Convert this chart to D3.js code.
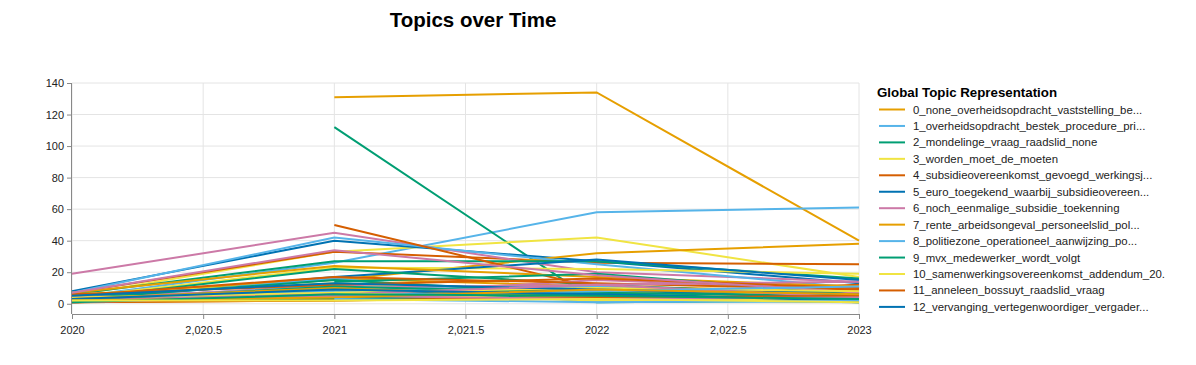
<!DOCTYPE html>
<html>
<head>
<meta charset="utf-8">
<script src="https://cdn.jsdelivr.net/npm/d3@7"></script>
<style>
  body { margin: 0; background: #fff; }
  svg { font-family: "Liberation Sans", Arial, sans-serif; }
</style>
</head>
<body>
<svg width="1196" height="365"></svg>
<script>
var width = 1196;
var height = 365;

var years = [2020, 2021, 2022, 2023];
var xTicks = [2020, 2020.5, 2021, 2021.5, 2022, 2022.5, 2023];
var xTickLabels = ['2020', '2,020.5', '2021', '2,021.5', '2022', '2,022.5', '2023'];
var yTicks = [0, 20, 40, 60, 80, 100, 120, 140];

var palette = ['#E69F00', '#56B4E9', '#009E73', '#F0E442', '#D55E00', '#0072B2', '#CC79A7'];

// legend names (only the first 13 fit in the legend)
var topicNames = [
  '0_none_overheidsopdracht_vaststelling_be...',
  '1_overheidsopdracht_bestek_procedure_pri...',
  '2_mondelinge_vraag_raadslid_none',
  '3_worden_moet_de_moeten',
  '4_subsidieovereenkomst_gevoegd_werkingsj...',
  '5_euro_toegekend_waarbij_subsidieovereen...',
  '6_noch_eenmalige_subsidie_toekenning',
  '7_rente_arbeidsongeval_personeelslid_pol...',
  '8_politiezone_operationeel_aanwijzing_po...',
  '9_mvx_medewerker_wordt_volgt',
  '10_samenwerkingsovereenkomst_addendum_20.',
  '11_anneleen_bossuyt_raadslid_vraag',
  '12_vervanging_vertegenwoordiger_vergader...'
];

// frequency per topic for 2020, 2021, 2022, 2023 (null = no documents)
var frequencies = [
  [null, 131, 134, 40],
  [4, 26, 58, 61],
  [null, 112, 1, 2],
  [5, 33, 42, 17],
  [7, 33, 26, 25],
  [8, 40, 27, 13],
  [19, 45, 20, 14],
  [5, 15, 32, 38],
  [7, 42, 25, 10],
  [6, 27, 27, 16],
  [4, 23, 22, 19],
  [null, 50, 10, 8],
  [3, 17, 28, 15],
  [2, 12, 9, 6],
  [5, 16, 11, 8],
  [2, 16, 1, 3],
  [3, 22, 12, 5],
  [6, 13, 8, 4],
  [2, 9, 6, 12],
  [4, 6, 10, 7],
  [1, 5, 15, 9],
  [7, 24, 17, 11],
  [3, 11, 5, 3],
  [null, 14, 19, 6],
  [2, 7, 4, 2],
  [5, 17, 13, 9],
  [1, 3, 7, 5],
  [4, 10, 12, 14],
  [2, 6, 3, 1],
  [null, 9, 11, 4],
  [3, 15, 6, 3],
  [1, 4, 8, 6],
  [6, 12, 16, 10],
  [2, 5, 9, 3],
  [7, 34, 18, 7],
  [1, 2, 5, 2],
  [3, 8, 2, 1],
  [2, 11, 7, 5],
  [4, 7, 10, 8],
  [1, 4, 3, 2],
  [5, 13, 9, 6],
  [2, 6, 12, 4],
  [3, 10, 4, 3],
  [1, 5, 8, 11],
  [2, 3, 6, 1],
  [null, 7, 2, 3],
  [1, 2, 4, 5],
  [3, 9, 6, 2],
  [1, 5, 3, 4],
  [2, 4, 9, 6],
  [null, 3, 1, 2],
  [1, 6, 5, 3],
  [2, 2, 3, 1]
];

var plotLeft = 72, plotRight = 859, plotTop = 83, plotBottom = 314;

var xScale = d3.scaleLinear()
  .domain([2020, 2023])
  .range([plotLeft, plotRight]);

var yScale = d3.scaleLinear()
  .domain([-6.5, 140])
  .range([plotBottom, plotTop]);

var colorOf = function(i) { return palette[i % palette.length]; };

var svg = d3.select('svg');

// grid
var grid = svg.append('g');
grid.selectAll('line.h').data(yTicks).enter()
  .append('line')
  .attr('x1', plotLeft).attr('x2', plotRight)
  .attr('y1', function(d) { return yScale(d); })
  .attr('y2', function(d) { return yScale(d); })
  .attr('stroke', '#e4e4e4');
grid.selectAll('line.v').data(xTicks).enter()
  .append('line')
  .attr('y1', plotTop).attr('y2', plotBottom)
  .attr('x1', function(d) { return xScale(d); })
  .attr('x2', function(d) { return xScale(d); })
  .attr('stroke', '#e4e4e4');

// lines, topic 0 drawn first
var line = d3.line()
  .defined(function(d) { return d.value !== null; })
  .x(function(d) { return xScale(d.year); })
  .y(function(d) { return yScale(d.value); });

var series = frequencies.map(function(vals, i) {
  return { topic: i, points: vals.map(function(v, j) { return { year: years[j], value: v }; }) };
});

svg.append('g').selectAll('path').data(series).enter()
  .append('path')
  .attr('d', function(d) { return line(d.points); })
  .attr('fill', 'none')
  .attr('stroke', function(d) { return colorOf(d.topic); })
  .attr('stroke-width', 2);

// axes
var axisHorizontal = d3.axisBottom(xScale)
  .tickValues(xTicks)
  .tickFormat(function(d, i) { return xTickLabels[i]; })
  .tickSize(5)
  .tickSizeOuter(0);
var gx = svg.append('g').attr('transform', 'translate(0,' + plotBottom + ')').call(axisHorizontal);

var axisVertical = d3.axisLeft(yScale)
  .tickValues(yTicks)
  .tickSize(5)
  .tickSizeOuter(0);
var gy = svg.append('g').attr('transform', 'translate(' + plotLeft + ',0)').call(axisVertical);

[gx, gy].forEach(function(g) {
  g.select('.domain').remove();
  g.selectAll('.tick line').attr('stroke', '#888');
  g.selectAll('.tick text')
    .attr('fill', '#222')
    .attr('font-family', '"Liberation Sans", Arial, sans-serif')
    .attr('font-size', '11px');
});
svg.append('line')
  .attr('x1', plotLeft).attr('x2', plotRight)
  .attr('y1', plotBottom + 0.5).attr('y2', plotBottom + 0.5)
  .attr('stroke', '#888');
svg.append('line')
  .attr('x1', plotLeft - 0.5).attr('x2', plotLeft - 0.5)
  .attr('y1', plotTop).attr('y2', plotBottom)
  .attr('stroke', '#888');
gx.selectAll('.tick text').attr('dy', '1.05em');
gy.selectAll('.tick text').attr('x', -8);

// title
svg.append('text')
  .attr('x', 473)
  .attr('y', 27)
  .attr('text-anchor', 'middle')
  .attr('font-size', '20.5px')
  .attr('font-weight', 'bold')
  .attr('fill', '#000')
  .text('Topics over Time');

// legend
var legend = svg.append('g');
legend.append('text')
  .attr('x', 877)
  .attr('y', 97)
  .attr('font-size', '13.3px')
  .attr('font-weight', 'bold')
  .attr('fill', '#000')
  .text('Global Topic Representation');

var rowY = function(i) { return 109.5 + i * 16.45; };
var rows = legend.selectAll('g.row').data(topicNames).enter()
  .append('g');
rows.append('line')
  .attr('x1', 879).attr('x2', 905)
  .attr('y1', function(d, i) { return rowY(i); })
  .attr('y2', function(d, i) { return rowY(i); })
  .attr('stroke', function(d, i) { return colorOf(i); })
  .attr('stroke-width', 2);
rows.append('text')
  .attr('x', 913)
  .attr('y', function(d, i) { return rowY(i) + 4; })
  .attr('font-size', '11.4px')
  .attr('fill', '#222')
  .text(function(d) { return d; });
</script>
</body>
</html>
